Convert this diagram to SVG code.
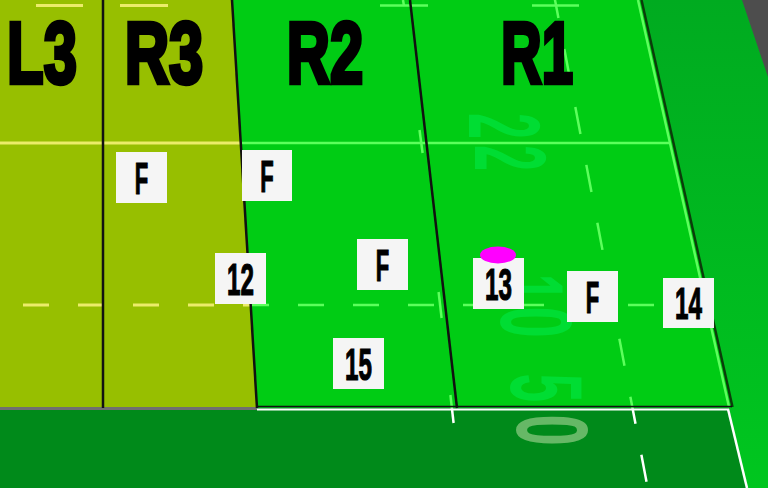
<svg xmlns="http://www.w3.org/2000/svg" width="768" height="488" viewBox="0 0 768 488">
<defs>
<linearGradient id="side" x1="0" y1="0" x2="0" y2="1">
<stop offset="0" stop-color="#00ab20"/>
<stop offset="1" stop-color="#00c61f"/>
</linearGradient>
<clipPath id="fieldClip"><rect x="0" y="0" width="768" height="408.5"/></clipPath>
<clipPath id="goalClip"><rect x="0" y="408.5" width="768" height="80"/></clipPath>
<style>
.zone-line{stroke:#111;stroke-width:2.5;fill:none}
.lg{stroke:#5cff5c;stroke-width:2.5;fill:none}
.yl{stroke:#ecec6a;stroke-width:2.8;fill:none}
.wh{stroke:#ffffff;stroke-width:2.5;fill:none}
.label{font-family:"Liberation Sans",Arial,sans-serif;font-weight:bold;font-size:88px;fill:#000;stroke:#000;stroke-width:4.5;stroke-linejoin:miter;text-anchor:middle}
.ghost{font-family:"Liberation Sans",Arial,sans-serif;font-weight:bold;font-size:102px;fill:#00dd33;text-anchor:middle}
.ghost-dark{fill:#66b866}
.box{fill:#f5f5f5}
.ptxt{font-family:"Liberation Sans",Arial,sans-serif;font-weight:bold;font-size:44px;fill:#000;stroke:#000;stroke-width:1.2;text-anchor:middle}
</style>
</defs>

<!-- background areas -->
<rect x="0" y="0" width="768" height="488" fill="url(#side)"/>
<polygon points="742,0 768,0 768,77" fill="#4d4d4d"/>
<polygon points="0,408 729,408 747,488 0,488" fill="#008a1a"/>
<polygon points="232,0 641,0 732,407 257,407" fill="#00cc14"/>
<polygon points="0,0 232,0 257,408 0,408" fill="#97bf00"/>

<!-- ghost numbers -->
<g id="ghost-numbers">
<text class="ghost" transform="translate(505,126) rotate(90) scale(0.45,1)" y="36">2</text>
<text class="ghost" transform="translate(511,158) rotate(90) scale(0.45,1)" y="36">2</text>
<text class="ghost" transform="translate(528,288) rotate(90) scale(0.5,1)" y="36">1</text>
<text class="ghost" transform="translate(537,322) rotate(90) scale(0.55,1)" y="36">0</text>
<text class="ghost" transform="translate(547,388) rotate(90) scale(0.5,1)" y="36">5</text>
<text class="ghost ghost-dark" transform="translate(553,430) rotate(90) scale(0.55,1)" y="36">0</text>
</g>

<!-- pitch markings -->
<g id="markings">
<line class="yl" x1="0" y1="143" x2="241" y2="143"/>
<line class="lg" x1="241" y1="143" x2="670" y2="143"/>
<line class="yl" x1="36" y1="5.5" x2="83" y2="5.5"/>
<line class="yl" x1="120" y1="5.5" x2="168" y2="5.5"/>
<line class="lg" x1="380" y1="5.5" x2="428" y2="5.5"/>
<line class="lg" x1="532" y1="5.5" x2="579" y2="5.5"/>
<line class="lg" x1="403" y1="0" x2="404" y2="6"/>
<line class="yl" x1="23" y1="305" x2="251" y2="305" stroke-dasharray="26 29"/>
<line class="lg" x1="251" y1="305" x2="715" y2="305" stroke-dasharray="26 29" stroke-dashoffset="8"/>
<line class="lg" x1="419.5" y1="130" x2="422.6" y2="153"/>
<line class="lg" x1="438.6" y1="292" x2="441.6" y2="318"/>
<g clip-path="url(#fieldClip)"><line class="lg" x1="450.4" y1="395" x2="453.6" y2="423"/></g>
<g clip-path="url(#goalClip)"><line class="wh" x1="450.4" y1="395" x2="453.6" y2="423"/></g>
<g clip-path="url(#fieldClip)"><line class="lg" x1="553.3" y1="-9" x2="647.7" y2="488" stroke-dasharray="27.5 31.5"/></g>
<g clip-path="url(#goalClip)"><line class="wh" x1="553.3" y1="-9" x2="647.7" y2="488" stroke-dasharray="27.5 31.5"/></g>
<line class="lg" x1="638" y1="0" x2="729" y2="407"/>
<line x1="641.5" y1="0" x2="732.5" y2="407" stroke="#0b3d0b" stroke-width="2.5"/>
<line class="wh" x1="728" y1="409" x2="747" y2="488"/>
<line x1="0" y1="408.5" x2="257" y2="408.5" stroke="#707070" stroke-width="3"/>
<line x1="257" y1="406.5" x2="732" y2="406.5" stroke="#111" stroke-width="1.5"/>
<line x1="257" y1="409.6" x2="729" y2="409.6" stroke="#ffffff" stroke-width="2"/>
</g>

<!-- zone boundaries -->
<g id="zone-lines">
<line class="zone-line" x1="103" y1="0" x2="103" y2="408"/>
<line class="zone-line" x1="232" y1="0" x2="257" y2="408"/>
<line class="zone-line" x1="410" y1="0" x2="457" y2="408"/>
</g>

<!-- zone labels -->
<g id="zone-labels">
<text class="label" transform="translate(42,83) scale(0.68,1)">L3</text>
<text class="label" transform="translate(164,83) scale(0.7,1)">R3</text>
<text class="label" transform="translate(325,83) scale(0.68,1)">R2</text>
<text class="label" transform="translate(537,83) scale(0.64,1)">R1</text>
</g>

<!-- players -->
<g id="player-F1"><rect class="box" x="116" y="152" width="51" height="51"/><text class="ptxt" transform="translate(141.5,193.5) scale(0.5,1)">F</text></g>
<g id="player-F2"><rect class="box" x="242" y="150" width="50" height="51"/><text class="ptxt" transform="translate(267,191.5) scale(0.5,1)">F</text></g>
<g id="player-12"><rect class="box" x="215" y="253" width="51" height="51"/><text class="ptxt" transform="translate(240.5,294.5) scale(0.55,1)">12</text></g>
<g id="player-F3"><rect class="box" x="357" y="239" width="51" height="51"/><text class="ptxt" transform="translate(382.5,280.5) scale(0.5,1)">F</text></g>
<g id="player-15"><rect class="box" x="333" y="338" width="51" height="51"/><text class="ptxt" transform="translate(358.5,379.5) scale(0.55,1)">15</text></g>
<g id="player-13"><rect class="box" x="473" y="258" width="51" height="51"/><text class="ptxt" transform="translate(498.5,299.5) scale(0.55,1)">13</text><ellipse cx="498" cy="255" rx="18" ry="8.5" fill="#ff00ff"/></g>
<g id="player-F4"><rect class="box" x="567" y="271" width="51" height="51"/><text class="ptxt" transform="translate(592.5,312.5) scale(0.5,1)">F</text></g>
<g id="player-14"><rect class="box" x="663" y="278" width="51" height="50"/><text class="ptxt" transform="translate(688.5,319) scale(0.55,1)">14</text></g>
</svg>
